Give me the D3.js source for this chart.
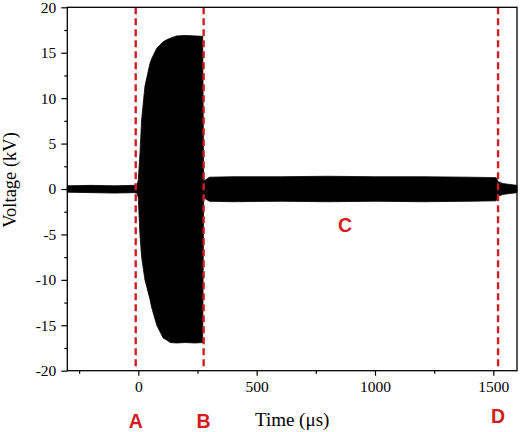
<!DOCTYPE html>
<html>
<head>
<meta charset="utf-8">
<style>
  body { margin: 0; background: #fff; }
  svg { display: block; }
  .axis .domain { display: none; }
  .axis line { stroke: #000; stroke-width: 1.2; }
</style>
</head>
<body>
<svg width="520" height="432"></svg>
<script src="https://d3js.org/d3.v7.min.js"></script>
<script>
// envelope of the (dense) voltage oscillation
var timeUs = [-300, -200, -100, -20, -5, 0, 7, 14, 28, 49, 56, 78, 105, 118, 135, 162, 200, 240, 272,
              276, 285, 300, 400, 600, 800, 1000, 1200, 1400, 1512, 1520, 1540, 1570, 1600];
var upperKV = [0.35, 0.4, 0.35, 0.4, 0.45, 1.0, 3.9, 7.6, 11.3, 13.8, 14.3, 15.5, 16.2, 16.4, 16.6, 16.85, 16.9, 16.85, 16.8,
               1.0, 1.0, 1.3, 1.35, 1.35, 1.4, 1.35, 1.35, 1.3, 1.25, 0.8, 0.6, 0.5, 0.4];
var lowerKV = [-0.35, -0.4, -0.45, -0.4, -0.45, -1.0, -5.0, -7.5, -10.0, -12.1, -13.0, -15.0, -16.4, -16.6, -16.9, -16.95, -16.9, -16.95, -16.9,
               -1.0, -1.1, -1.35, -1.4, -1.35, -1.4, -1.35, -1.4, -1.35, -1.3, -0.8, -0.6, -0.5, -0.4];

// phase markers
var markerTimes = [-11, 276, 1520];
var markerNames = ["A", "B", "D"];
var regionLabel = {name: "C", t: 873, v: -4};

var xTicks = [0, 500, 1000, 1500];
var xMinor = [-250, 250, 750, 1250];
var yTicks = [-20, -15, -10, -5, 0, 5, 10, 15, 20];
var yMinor = [-17.5, -12.5, -7.5, -2.5, 2.5, 7.5, 12.5, 17.5];

var serif = "'Liberation Serif', 'Times New Roman', serif";
var svg = d3.select("svg"),
  margin = {top: 7.3, right: 3, bottom: 61.3, left: 67.3},
  width = +svg.attr("width") - margin.left - margin.right,
  height = +svg.attr("height") - margin.top - margin.bottom,
  g = svg.append("g").attr("transform", "translate(" + margin.left + "," + margin.top + ")");

var x = d3.scaleLinear().domain([-300, 1600]).range([0, width]);
var y = d3.scaleLinear().domain([-20, 20]).range([height, 0]);

var wave = timeUs.map(function(t, i) {
  return {t: t, hi: upperKV[i], lo: lowerKV[i]};
});

var area = d3.area()
  .x(function(d) { return x(d.t); })
  .y0(function(d) { return y(d.lo); })
  .y1(function(d) { return y(d.hi); });

g.append("path")
  .datum(wave)
  .attr("d", area)
  .attr("fill", "#000")
  .attr("stroke", "#000")
  .attr("stroke-width", 0.8);

// dashed phase lines
g.selectAll(".marker")
  .data(markerTimes)
  .enter().append("line")
  .attr("x1", function(d) { return x(d); })
  .attr("x2", function(d) { return x(d); })
  .attr("y1", 0)
  .attr("y2", height)
  .attr("stroke", "#cc1f25")
  .attr("stroke-width", 2.4)
  .attr("stroke-dasharray", "7,4");

// axes
function styleAxis(sel) {
  sel.attr("font-family", serif).attr("font-size", 15.5);
  sel.selectAll("text").attr("fill", "#000")
    .text(function() { return this.textContent.replace("\u2212", "-"); });
}
g.append("g")
  .attr("class", "axis")
  .attr("transform", "translate(0," + height + ")")
  .call(d3.axisBottom(x).tickValues(xTicks).tickSize(5).tickPadding(5).tickFormat(d3.format("d")))
  .call(styleAxis);
g.append("g")
  .attr("class", "axis")
  .attr("transform", "translate(0," + height + ")")
  .call(d3.axisBottom(x).tickValues(xMinor).tickSize(3).tickFormat(""));
g.append("g")
  .attr("class", "axis")
  .call(d3.axisLeft(y).tickValues(yTicks).tickSize(6).tickPadding(5).tickFormat(d3.format("d")))
  .call(styleAxis);
g.append("g")
  .attr("class", "axis")
  .call(d3.axisLeft(y).tickValues(yMinor).tickSize(3).tickFormat(""));

g.append("rect")
  .attr("width", width)
  .attr("height", height)
  .attr("fill", "none")
  .attr("stroke", "#000")
  .attr("stroke-width", 1.3);

// axis titles
svg.append("text")
  .attr("x", margin.left + width / 2)
  .attr("y", 426)
  .attr("text-anchor", "middle")
  .attr("font-family", serif)
  .attr("font-size", 19)
  .text("Time (\u03bcs)");
svg.append("text")
  .attr("transform", "translate(16,180) rotate(-90)")
  .attr("text-anchor", "middle")
  .attr("font-family", serif)
  .attr("font-size", 18.5)
  .text("Voltage (kV)");

// red letters
var labelFamily = "'Liberation Sans', Arial, sans-serif";
g.selectAll(".mlabel")
  .data(markerTimes)
  .enter().append("text")
  .attr("x", function(d) { return x(d); })
  .attr("y", function(d, i) { return (i == 2 ? 423 : 428) - margin.top; })
  .attr("text-anchor", "middle")
  .attr("font-family", labelFamily)
  .attr("font-size", 19.5)
  .attr("font-weight", "bold")
  .attr("fill", "#d41c1c")
  .text(function(d, i) { return markerNames[i]; });
g.append("text")
  .attr("x", x(regionLabel.t))
  .attr("y", y(regionLabel.v) + 7)
  .attr("text-anchor", "middle")
  .attr("font-family", labelFamily)
  .attr("font-size", 19.5)
  .attr("font-weight", "bold")
  .attr("fill", "#d41c1c")
  .text(regionLabel.name);
</script>
</body>
</html>
